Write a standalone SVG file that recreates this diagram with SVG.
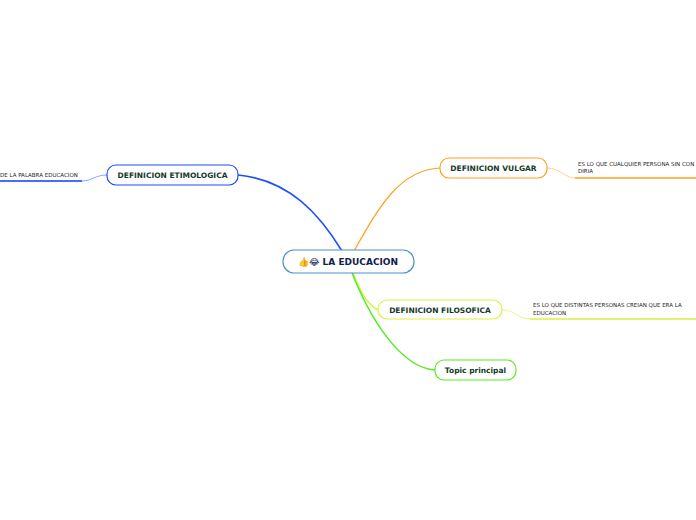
<svg xmlns="http://www.w3.org/2000/svg" width="696" height="520" viewBox="0 0 696 520">
<style>
.t{font-family:Verdana,"DejaVu Sans",sans-serif;font-weight:bold;fill:#123a2a;font-size:7.5px;text-anchor:middle}
.s{font-family:Verdana,"DejaVu Sans",sans-serif;fill:#222;font-size:5.5px}
.b{fill:#fff;stroke-width:1.2}
.c{fill:none}
</style>
<rect width="696" height="520" fill="#fff"/>
<g id="connectors">
<path class="c" d="M342 251 C320 215 290 180 238 175" stroke="#1a4dff" stroke-width="1.5"/>
<path class="c" d="M354 251 C380 205 400 170 440 168" stroke="#ffa020" stroke-width="1.2"/>
<path class="c" d="M353 273 C362 295 368 305 378 310" stroke="#d8f040" stroke-width="1.5"/>
<path class="c" d="M352 273 C375 330 405 368 435 370" stroke="#55ee22" stroke-width="1.5"/>
<path class="c" d="M107 175 C95 175 92 181 82 181 L0 181" stroke="#88a8ff" stroke-width="1"/>
<path d="M82 181 L0 181" stroke="#1a4dff" stroke-width="1.5"/>
<path class="c" d="M547 168 C560 168 565 178 575 178" stroke="#ffd090" stroke-width="1"/>
<path d="M575 178 L696 178" stroke="#ffa020" stroke-width="1.5"/>
<path class="c" d="M502 310 C515 310 518 319 530 319" stroke="#e8f880" stroke-width="1"/>
<path d="M530 319 L696 319" stroke="#d8f040" stroke-width="1.5"/>
</g>
<g id="central"><rect class="b" x="283" y="250" width="131" height="23" rx="11" stroke="#4a90d0"/>
<text x="348" y="265" class="t" style="font-size:9px;fill:#102050">👍😂 LA EDUCACION</text></g>
<g id="etimologica"><rect class="b" x="107" y="165" width="131" height="20" rx="9" stroke="#1a4dff"/>
<text x="172.5" y="178" class="t">DEFINICION ETIMOLOGICA</text></g>
<g id="etim-note"><text x="0" y="177" class="s">DE LA PALABRA EDUCACION</text></g>
<g id="vulgar"><rect class="b" x="440" y="158" width="107" height="20" rx="9" stroke="#ffa020"/>
<text x="493.5" y="171" class="t">DEFINICION VULGAR</text></g>
<g id="vulgar-note"><text x="578" y="166" class="s">ES LO QUE CUALQUIER PERSONA SIN CON</text><text x="578" y="173" class="s">DIRIA</text></g>
<g id="filosofica"><rect class="b" x="378" y="300" width="124" height="19" rx="9" stroke="#e0f040"/>
<text x="440" y="313" class="t">DEFINICION FILOSOFICA</text></g>
<g id="filo-note"><text x="533" y="307" class="s">ES LO QUE DISTINTAS PERSONAS CREIAN QUE ERA LA</text><text x="533" y="315" class="s">EDUCACION</text></g>
<g id="topic"><rect class="b" x="435" y="360" width="81" height="20" rx="9" stroke="#55ee22"/>
<text x="475.5" y="373" class="t">Topic principal</text></g>
</svg>
